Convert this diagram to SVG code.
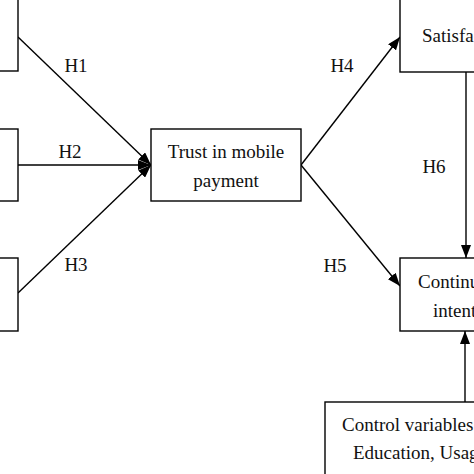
<svg xmlns="http://www.w3.org/2000/svg" width="474" height="474" viewBox="0 0 474 474">
<style>
.box{fill:#fff;stroke:#000;stroke-width:1.4}
.t{font-family:"Liberation Serif","Times New Roman",serif;font-size:19px;fill:#111}
.c{text-anchor:middle}
.ln{stroke:#000;stroke-width:1.4;fill:none;marker-end:url(#ah)}
</style>
<defs>
<marker id="ah" viewBox="0 0 13 10" refX="13" refY="5" markerWidth="13" markerHeight="10" markerUnits="userSpaceOnUse" orient="auto">
<path d="M0,0 L13,5 L0,10 z" fill="#000"/>
</marker>
</defs>
<rect width="474" height="474" fill="#fff"/>
<g id="connectors">
<line class="ln" x1="18" y1="37" x2="151" y2="165"/>
<line class="ln" x1="18" y1="165" x2="151" y2="165"/>
<line class="ln" x1="18" y1="293" x2="151" y2="165"/>
<line class="ln" x1="301" y1="165" x2="400" y2="37"/>
<line class="ln" x1="301" y1="165" x2="400" y2="286"/>
<line class="ln" x1="466" y1="72" x2="466" y2="258"/>
<line class="ln" x1="465" y1="402" x2="465" y2="331"/>
<text class="t c" x="76" y="72">H1</text>
<text class="t c" x="70" y="158">H2</text>
<text class="t c" x="76" y="271">H3</text>
<text class="t c" x="342" y="72">H4</text>
<text class="t c" x="335" y="272">H5</text>
<text class="t c" x="434" y="173">H6</text>
</g>
<g id="node-left1"><rect class="box" x="-132" y="-2" width="150" height="73"/></g>
<g id="node-left2"><rect class="box" x="-132" y="129" width="150" height="72"/></g>
<g id="node-left3"><rect class="box" x="-132" y="258" width="150" height="73"/></g>
<g id="node-trust">
<rect class="box" x="151" y="129" width="150" height="72"/>
<text class="t c" x="226" y="158">Trust in mobile</text>
<text class="t c" x="226" y="187">payment</text>
</g>
<g id="node-satisfaction">
<rect class="box" x="400" y="-1" width="150" height="73"/>
<text class="t" x="422" y="42">Satisfaction</text>
</g>
<g id="node-continuance">
<rect class="box" x="400" y="258" width="150" height="73"/>
<text class="t" x="418" y="288">Continuance</text>
<text class="t" x="433" y="317">intention</text>
</g>
<g id="node-control">
<rect class="box" x="325" y="402" width="220" height="80"/>
<text class="t" x="342" y="431">Control variables</text>
<text class="t" x="353" y="459">Education, Usage</text>
</g>
</svg>
